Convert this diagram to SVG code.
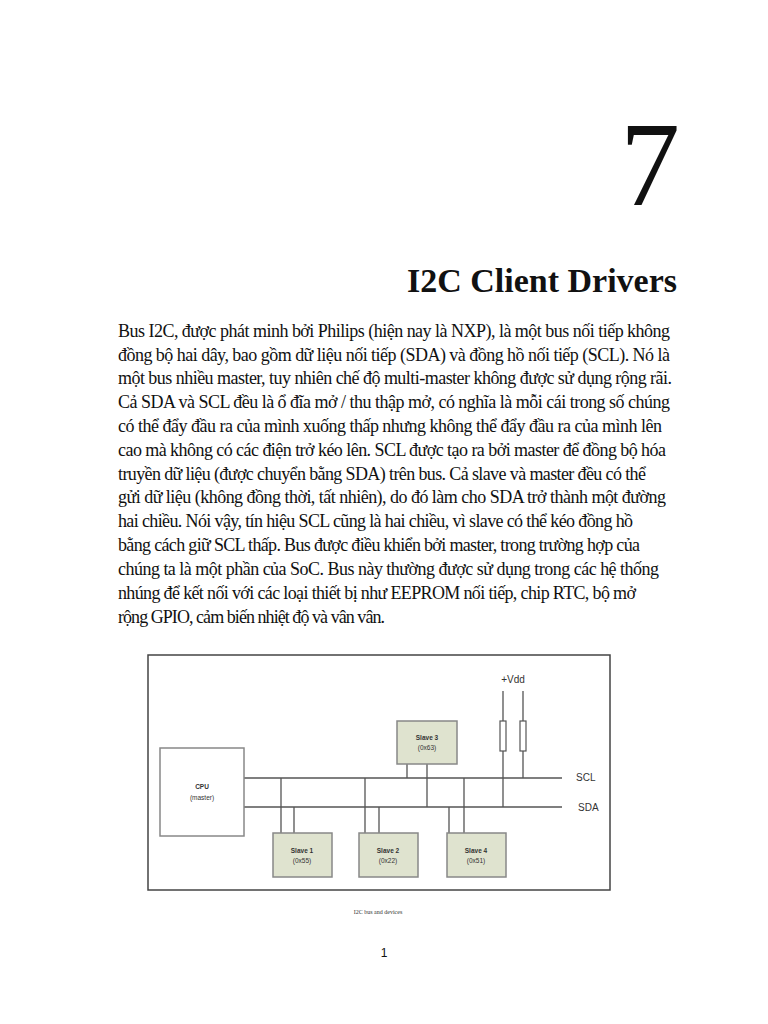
<svg xmlns="http://www.w3.org/2000/svg" width="768" height="1024" viewBox="0 0 768 1024">
<style>
.b{font-family:"Liberation Serif",serif;font-size:18px;fill:#111}
.w{stroke:#555;stroke-width:1.3;fill:none}
.n{fill:#dfe3cf;stroke:#888;stroke-width:1.5}
.t{font-family:"Liberation Sans",sans-serif;font-size:6.5px;fill:#333;text-anchor:middle}
.tb{font-weight:bold}
.l{font-family:"Liberation Sans",sans-serif;font-size:10px;fill:#333}
</style>
<rect width="768" height="1024" fill="#fff"/>
<text x="650" y="205" font-family="Liberation Serif,serif" font-size="120" text-anchor="middle" fill="#111">7</text>
<text x="677" y="292" font-family="Liberation Serif,serif" font-size="34" font-weight="bold" text-anchor="end" fill="#111">I2C Client Drivers</text>
<g class="b">
<text x="118" y="337" textLength="552" lengthAdjust="spacing">Bus I2C, được phát minh bởi Philips (hiện nay là NXP), là một bus nối tiếp không</text>
<text x="118" y="361" textLength="552" lengthAdjust="spacing">đồng bộ hai dây, bao gồm dữ liệu nối tiếp (SDA) và đồng hồ nối tiếp (SCL). Nó là</text>
<text x="118" y="384" textLength="554" lengthAdjust="spacing">một bus nhiều master, tuy nhiên chế độ multi-master không được sử dụng rộng rãi.</text>
<text x="118" y="408" textLength="552" lengthAdjust="spacing">Cả SDA và SCL đều là ổ đĩa mở / thu thập mở, có nghĩa là mỗi cái trong số chúng</text>
<text x="118" y="432" textLength="544" lengthAdjust="spacing">có thể đẩy đầu ra của mình xuống thấp nhưng không thể đẩy đầu ra của mình lên</text>
<text x="118" y="456" textLength="548" lengthAdjust="spacing">cao mà không có các điện trở kéo lên. SCL được tạo ra bởi master để đồng bộ hóa</text>
<text x="118" y="480" textLength="528" lengthAdjust="spacing">truyền dữ liệu (được chuyển bằng SDA) trên bus. Cả slave và master đều có thể</text>
<text x="118" y="503" textLength="548" lengthAdjust="spacing">gửi dữ liệu (không đồng thời, tất nhiên), do đó làm cho SDA trở thành một đường</text>
<text x="118" y="527" textLength="515" lengthAdjust="spacing">hai chiều. Nói vậy, tín hiệu SCL cũng là hai chiều, vì slave có thể kéo đồng hồ</text>
<text x="118" y="551" textLength="522" lengthAdjust="spacing">bằng cách giữ SCL thấp. Bus được điều khiển bởi master, trong trường hợp của</text>
<text x="118" y="575" textLength="541" lengthAdjust="spacing">chúng ta là một phần của SoC. Bus này thường được sử dụng trong các hệ thống</text>
<text x="118" y="599" textLength="518" lengthAdjust="spacing">nhúng để kết nối với các loại thiết bị như EEPROM nối tiếp, chip RTC, bộ mở</text>
<text x="118" y="623" textLength="267" lengthAdjust="spacing">rộng GPIO, cảm biến nhiệt độ và vân vân.</text>
</g>
<rect x="148" y="655" width="462" height="235" fill="#fff" stroke="#444" stroke-width="1.5"/>
<g id="connectors" class="w">
<path d="M244 778H562M244 807H562"/>
<path d="M281 778V833M294 807V833"/>
<path d="M365 778V833M379 807V833"/>
<path d="M464 778V833M449 807V833"/>
<path d="M407 764V778M427 764V807"/>
<path d="M503 691V807M523 691V778"/>
</g>
<g id="resistors" fill="#fff" stroke="#555" stroke-width="1.2">
<rect x="500" y="721" width="6" height="30"/>
<rect x="520" y="721" width="6" height="30"/>
</g>
<text x="513" y="683" class="l" text-anchor="middle">+Vdd</text>
<text x="576" y="781" class="l">SCL</text>
<text x="578" y="811" class="l">SDA</text>
<g id="cpu"><rect x="160" y="748" width="84" height="88" fill="#fff" stroke="#888" stroke-width="1.5"/>
<text x="202" y="789" class="t tb">CPU</text><text x="202" y="800" class="t">(master)</text></g>
<g id="slave3"><rect x="397" y="721" width="60" height="43" class="n"/>
<text x="427" y="740" class="t tb">Slave 3</text><text x="427" y="750" class="t">(0x63)</text></g>
<g id="slave1"><rect x="273" y="833" width="59" height="44" class="n"/>
<text x="302" y="853" class="t tb">Slave 1</text><text x="302" y="863" class="t">(0x55)</text></g>
<g id="slave2"><rect x="359" y="833" width="59" height="44" class="n"/>
<text x="388" y="853" class="t tb">Slave 2</text><text x="388" y="863" class="t">(0x22)</text></g>
<g id="slave4"><rect x="447" y="833" width="59" height="44" class="n"/>
<text x="476" y="853" class="t tb">Slave 4</text><text x="476" y="863" class="t">(0x51)</text></g>
<text x="378" y="914" font-family="Liberation Serif,serif" font-size="6" text-anchor="middle" fill="#333">I2C bus and devices</text>
<text x="384" y="957" font-family="Liberation Sans,sans-serif" font-size="12" text-anchor="middle" fill="#111">1</text>
</svg>
